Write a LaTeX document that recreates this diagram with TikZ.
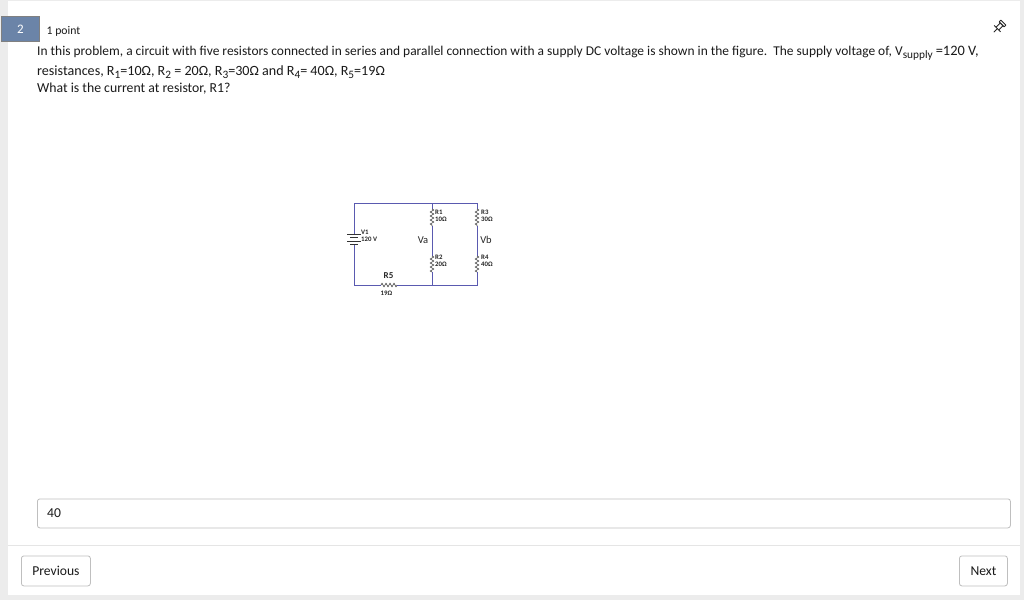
\documentclass[tikz,border=0pt]{standalone}
\usepackage{fontspec}
\setmainfont{Carlito}
\usetikzlibrary{positioning, decorations.pathmorphing}
\definecolor{wireblue}{HTML}{5A5AB0}
\definecolor{tabblue}{HTML}{6B84A8}
\definecolor{pagegrey}{HTML}{ECECEC}
\definecolor{textgrey}{HTML}{1A1A1A}
\tikzstyle{line} = [anchor=base west, inner sep=0pt, text=textgrey, font=\fontsize{13.45}{15}\selectfont]
\tikzstyle{button} = [draw=black!25, rounded corners=2.5pt, fill=white, line width=0.8pt, text=textgrey,
    inner sep=0pt, font=\fontsize{13.6}{15}\selectfont]
\tikzstyle{wire} = [draw=wireblue, line width=0.9pt]
\tikzstyle{res} = [draw=black!75, line width=0.6pt, decorate, decoration={zigzag, segment length=4pt, amplitude=1.8pt}]
\tikzstyle{tiny} = [inner sep=0pt, text=black!85, font=\bfseries\fontsize{6.8}{7}\selectfont, anchor=west]
\tikzstyle{probe} = [inner sep=0pt, text=black!85, font=\fontsize{10.5}{11}\selectfont]
\newcommand{\sub}[1]{\raisebox{-3pt}{\fontsize{11.3}{12}\selectfont #1}}
\begin{document}
\begin{tikzpicture}[x=1pt, y=-1pt]
    \useasboundingbox (0,0) rectangle (1024,600);
    % page
    \fill [pagegrey] (0,0) rectangle (1024,600);
    \fill [white] (8,1) rectangle (1020,595);
    \node [draw=black!50, fill=tabblue, minimum width=38pt, minimum height=25pt, inner sep=0pt, text=white,
        font=\fontsize{13}{15}\selectfont] (tab) at (20.5,29) {2};
    \node [line, font=\fontsize{11.7}{13}\selectfont] (points) at (46.5,34) {1 point};
    % pin icon
    \begin{scope}[shift={(999.5,26.5)}, rotate=45, black!85, line width=0.9pt]
        \draw (-8,0) -- (-3,0);
        \draw (-3,-4.5) -- (-3,4.5);
        \draw (-3,-2) -- (3,-2) -- (3,2) -- (-3,2);
        \draw (3,-3.5) -- (3,3.5);
        \draw (5.5,-3.5) -- (5.5,3.5) (3,-3.5) -- (5.5,-3.5) (3,3.5) -- (5.5,3.5);
    \end{scope}
    % question
    \node [line] (qa) at (37,55) {In this problem, a circuit with five resistors connected in series and parallel connection with a supply DC voltage is shown in the figure.\ \ The supply voltage of, V\sub{supply} {\fontsize{14.4}{15}\selectfont =120 V,}};
    \node [line, font=\fontsize{14.1}{15}\selectfont] (qb) at (37,75) {resistances, R\sub{1}=10Ω, R\sub{2} = 20Ω, R\sub{3}=30Ω and R\sub{4}= 40Ω, R\sub{5}=19Ω};
    \node [line, font=\fontsize{13.75}{15}\selectfont] (qc) at (37,92) {What is the current at resistor, R1?};
    % circuit corners
    \coordinate (tl) at (354,203);
    \coordinate (tm) at (432,203);
    \coordinate (tr) at (477,203);
    \coordinate (bl) at (354,285);
    \coordinate (bm) at (432,285);
    \coordinate (br) at (477,285);
    \coordinate (r1a) at (432,209);
    \coordinate (r1b) at (432,226);
    \coordinate (r2a) at (432,256);
    \coordinate (r2b) at (432,272);
    \coordinate (r3a) at (477,209);
    \coordinate (r3b) at (477,226);
    \coordinate (r4a) at (477,256);
    \coordinate (r4b) at (477,272);
    \coordinate (r5a) at (381,285);
    \coordinate (r5b) at (397,285);
    \coordinate (v1a) at (354,234);
    \coordinate (v1b) at (354,244);
    \draw [wire] (v1a) -- (tl) -- (tr) -- (r3a);
    \draw [wire] (tm) -- (r1a);
    \draw [wire] (r1b) -- (r2a);
    \draw [wire] (r2b) -- (bm);
    \draw [wire] (r3b) -- (r4a);
    \draw [wire] (r4b) -- (br) -- (r5b);
    \draw [wire] (r5a) -- (bl) -- (v1b);
    \draw [res] (r1a) -- (r1b);
    \draw [res] (r2a) -- (r2b);
    \draw [res] (r3a) -- (r3b);
    \draw [res] (r4a) -- (r4b);
    \draw [res] (r5a) -- (r5b);
    % battery
    \draw [black!80, line width=0.8pt] (347,234) -- (361,234);
    \draw [black!80, line width=0.8pt] (350,237.5) -- (358,237.5);
    \draw [black!80, line width=0.8pt] (347,241) -- (361,241);
    \draw [black!80, line width=0.8pt] (350,244) -- (358,244);
    % circuit labels
    \node [tiny] (v1name) at (361,232) {V1};
    \node [tiny] (v1val) at (361,239.5) {120 V};
    \node [tiny] (r1name) at (435,212) {R1};
    \node [tiny] (r1val) at (435,219) {10Ω};
    \node [tiny] (r2name) at (435,257) {R2};
    \node [tiny] (r2val) at (435,264.5) {20Ω};
    \node [tiny] (r3name) at (481,212) {R3};
    \node [tiny] (r3val) at (481,219) {30Ω};
    \node [tiny] (r4name) at (481,257) {R4};
    \node [tiny] (r4val) at (481,264.5) {40Ω};
    \node [probe, font=\bfseries\fontsize{9}{10}\selectfont] (r5name) at (388.5,276) {R5};
    \node [tiny, anchor=center] (r5val) at (386.5,293.5) {19Ω};
    \node [probe] (va) at (423,240) {Va};
    \node [probe] (vb) at (486,240) {Vb};
    % answer and buttons
    \node [button, anchor=north west, minimum width=973pt, minimum height=29pt] (answer) at (37,498.5) {};
    \node [anchor=west, inner sep=0pt, text=textgrey, font=\fontsize{13.6}{15}\selectfont] (ansval) at (47,513.5) {40};
    \draw [black!10, line width=0.6pt] (8,545.5) -- (1020,545.5);
    \node [button, anchor=north west, minimum width=69pt, minimum height=30pt] (prev) at (21,555.5) {Previous};
    \node [button, anchor=north west, minimum width=48pt, minimum height=30pt] (next) at (959,555.5) {Next};
\end{tikzpicture}
\end{document}
